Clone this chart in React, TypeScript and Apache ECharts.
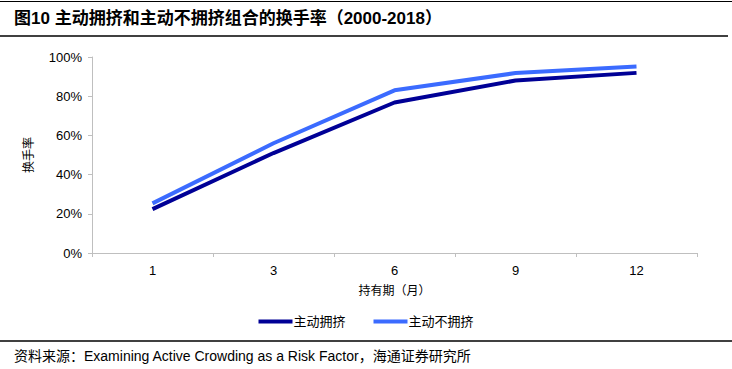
import React, { useEffect, useRef } from "react";
import * as echarts from "echarts";

const categories = ["1", "3", "6", "9", "12"];
const crowded = [22.4, 51, 76.8, 88, 91.9];
const uncrowded = [25.3, 56, 83, 91.8, 95.1];
const seriesNames = ["主动拥挤", "主动不拥挤"];
const title = "图10 主动拥挤和主动不拥挤组合的换手率（2000-2018）";
const source = "资料来源：Examining Active Crowding as a Risk Factor，海通证券研究所";

export default function App() {
  const ref = useRef<HTMLDivElement>(null);
  useEffect(() => {
    const chart = echarts.init(ref.current!, null, { renderer: "svg" });
    const font = "'Liberation Sans', Arial, 'Noto Sans CJK SC', sans-serif";
    chart.setOption({
      animation: false,
      textStyle: { fontFamily: font },
      graphic: [
        { type: "line", shape: { x1: 0, y1: 1.5, x2: 732, y2: 1.5 }, style: { stroke: "#000", lineWidth: 1 } },
        { type: "line", shape: { x1: 0, y1: 36, x2: 728, y2: 36 }, style: { stroke: "#000", lineWidth: 1.5 } },
        { type: "line", shape: { x1: 0, y1: 341, x2: 732, y2: 341 }, style: { stroke: "#000", lineWidth: 1.5 } },
        {
          type: "text",
          left: 14,
          top: 10,
          style: { text: title, font: `bold 17px ${font}`, fill: "#000" },
        },
        {
          type: "text",
          left: 14,
          top: 349,
          style: { text: source, font: `14px ${font}`, fill: "#000" },
        },
      ],
      legend: {
        data: seriesNames,
        top: 310,
        left: "center",
        itemWidth: 34,
        itemHeight: 4,
        itemGap: 28,
        textStyle: { fontSize: 13, color: "#000", padding: [0, 0, 0, -4] },
        icon: "rect",
      },
      grid: { left: 92, right: 35, top: 57, bottom: 116 },
      xAxis: {
        type: "category",
        data: categories,
        boundaryGap: true,
        name: "持有期（月）",
        nameLocation: "middle",
        nameGap: 32,
        nameTextStyle: { fontSize: 12, color: "#000" },
        axisLine: { lineStyle: { color: "#bfbfbf", width: 1 } },
        axisTick: { show: true, length: 4, lineStyle: { color: "#bfbfbf" } },
        axisLabel: { color: "#000", fontSize: 13, margin: 11 },
      },
      yAxis: {
        type: "value",
        min: 0,
        max: 100,
        interval: 20,
        name: "换手率",
        nameLocation: "middle",
        nameRotate: 90,
        nameGap: 57,
        nameTextStyle: { fontSize: 12, color: "#000" },
        axisLine: { show: true, lineStyle: { color: "#bfbfbf", width: 1 } },
        axisTick: { show: true, length: 4, lineStyle: { color: "#bfbfbf" } },
        splitLine: { show: false },
        axisLabel: { color: "#000", fontSize: 13, margin: 10, formatter: "{value}%" },
      },
      series: [
        {
          name: seriesNames[0],
          type: "line",
          data: crowded,
          symbol: "none",
          lineStyle: { color: "#000096", width: 4 },
          itemStyle: { color: "#000096" },
        },
        {
          name: seriesNames[1],
          type: "line",
          data: uncrowded,
          symbol: "none",
          lineStyle: { color: "#3b6bff", width: 4 },
          itemStyle: { color: "#3b6bff" },
        },
      ],
    });
    return () => chart.dispose();
  }, []);
  return <div ref={ref} style={{ width: 732, height: 369, position: "absolute", left: 0, top: 0 }} />;
}
